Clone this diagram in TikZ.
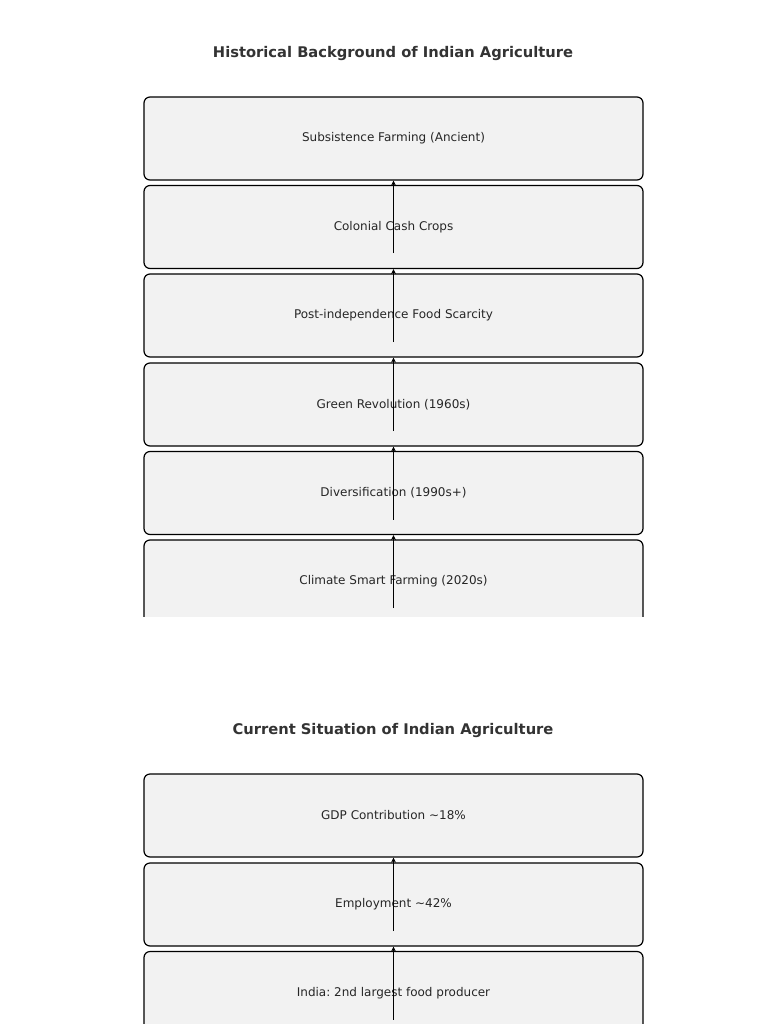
\documentclass[tikz,border=0pt]{standalone}
\usepackage{fontspec}
\setmainfont{DejaVu Sans}
\usetikzlibrary{arrows.meta}
\definecolor{boxfill}{HTML}{F2F2F2}
\definecolor{txt}{HTML}{262626}
\definecolor{ttl}{HTML}{333333}
\frenchspacing
\tikzset{
  stagebox/.style={draw=black, line width=1.2bp, fill=boxfill, rounded corners=6bp,
    minimum width=499bp, minimum height=83bp, inner sep=0pt, text=txt,
    font=\fontsize{12bp}{14bp}\selectfont},
  ptitle/.style={text=ttl, font=\fontsize{14.7bp}{17bp}\selectfont\bfseries},
  flow/.style={draw=black, line width=1bp, -{Stealth[length=5bp,width=5bp]}}
}
\begin{document}
\begin{tikzpicture}[x=1bp,y=-1bp]
\useasboundingbox (0,0) rectangle (768,1024);
% Panel 1
\node[ptitle] (t1) at (393,53) {Historical Background of Indian Agriculture};
\begin{scope}
\clip (0,0) rectangle (768,616);
\node[stagebox] (h1) at (393.5,138.5) {Subsistence Farming (Ancient)};
\node[stagebox] (h2) at (393.5,227) {Colonial Cash Crops};
\node[stagebox] (h3) at (393.5,315.5) {Post-independence Food Scarcity};
\node[stagebox] (h4) at (393.5,404.5) {Green Revolution (1960s)};
\node[stagebox] (h5) at (393.5,493) {Diversification (1990s+)};
\node[stagebox] (h6) at (393.5,581.5) {Climate Smart Farming (2020s)};
\coordinate (s2) at (393.5,253);
\coordinate (s3) at (393.5,342);
\coordinate (s4) at (393.5,431);
\coordinate (s5) at (393.5,519.5);
\coordinate (s6) at (393.5,608);
\draw[flow] (s2) -- (h1.south);
\draw[flow] (s3) -- (h2.south);
\draw[flow] (s4) -- (h3.south);
\draw[flow] (s5) -- (h4.south);
\draw[flow] (s6) -- (h5.south);
\end{scope}
% Panel 2
\node[ptitle] (t2) at (393,730) {Current Situation of Indian Agriculture};
\node[stagebox] (c1) at (393.5,815.5) {GDP Contribution \textasciitilde18\%};
\node[stagebox] (c2) at (393.5,904.5) {Employment \textasciitilde42\%};
\node[stagebox] (c3) at (393.5,993) {India: 2nd largest food producer};
\coordinate (r2) at (393.5,931);
\coordinate (r3) at (393.5,1019.5);
\draw[flow] (r2) -- (c1.south);
\draw[flow] (r3) -- (c2.south);
\end{tikzpicture}
\end{document}
